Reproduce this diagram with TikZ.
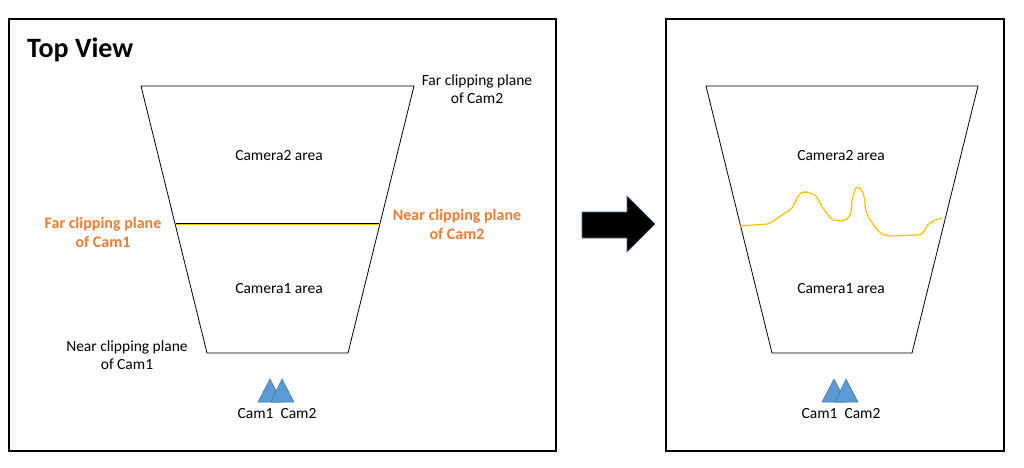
\documentclass[tikz,border=0pt]{standalone}
\usepackage{fontspec}
\setmainfont{Carlito}
\definecolor{org}{HTML}{ED7D31}
\definecolor{gold}{HTML}{FFC000}
\definecolor{camb}{HTML}{5B9BD5}
\definecolor{camd}{HTML}{41719C}
\begin{document}
\begin{tikzpicture}[x=1pt,y=-1pt,
  panel/.style={draw=black,line width=1.5pt},
  frust/.style={draw=black,line width=0.8pt},
  lab/.style={font=\fontsize{15.5}{18}\selectfont,align=center,inner sep=0pt},
  olab/.style={lab,text=org,font=\fontsize{16}{19}\selectfont\bfseries},
  cam/.style={fill=camb,draw=camd,line width=0.5pt}]
\useasboundingbox (0,0) rectangle (1024,467);
\fill[white] (0,0) rectangle (1024,467);
\draw[panel] (9,19) rectangle (556,451);
\draw[panel] (666,19) rectangle (1004,451);
\node[anchor=west,font=\fontsize{28}{30}\selectfont\bfseries,inner sep=0pt] (tv) at (27,50) {Top View};
% left frustum
\draw[frust] (141,86) -- (414,86) -- (348,353) -- (207,353) -- cycle;
\draw[black,line width=0.8pt] (176,223) -- (379,223);
\draw[gold,line width=1.2pt] (176,224.5) -- (379,224.5);
\node[lab] (c2a) at (279,156) {Camera2 area};
\node[lab] (c1a) at (279,289) {Camera1 area};
\node[lab] (far2) at (477,89) {Far clipping plane\\of Cam2};
\node[lab] (near1) at (127,355) {Near clipping plane\\of Cam1};
\node[olab] (far1) at (103,232) {Far clipping plane\\of Cam1};
\node[olab] (near2) at (457,224) {Near clipping plane\\of Cam2};
\draw[cam] (258,402) -- (270,379) -- (282,402) -- cycle;
\draw[cam] (271,402) -- (282,379) -- (294,402) -- cycle;
\node[lab] (cams) at (277,414) {Cam1\ \ Cam2};
% arrow
\fill[black] (582,212) -- (627,212) -- (627,196) -- (655,224) -- (627,252) -- (627,238) -- (582,238) -- cycle;
\draw[camd,line width=0.6pt] (582,212) -- (627,212) -- (627,196) -- (655,224) -- (627,252) -- (627,238) -- (582,238) -- cycle;
% right frustum
\draw[frust] (706,86) -- (978,86) -- (912,353) -- (772,353) -- cycle;
\node[lab] (c2b) at (841,156) {Camera2 area};
\node[lab] (c1b) at (841,289) {Camera1 area};
\draw[gold,line width=1.2pt,rounded corners=3pt] (740,226) -- (769,224) -- (779,217) -- (785,213) -- (792,209) -- (795,202) -- (801,192) -- (806,192) -- (816,195) -- (822,207) -- (829,216) -- (832,220) -- (841,221) -- (848,219) -- (851,213) -- (852,200) -- (856,186) -- (861,189) -- (864,195) -- (866,212) -- (869,218) -- (872,223) -- (880,233) -- (888,236) -- (920,235) -- (924,232) -- (927,225) -- (935,220) -- (942,218);
\draw[cam] (822,402) -- (834,379) -- (846,402) -- cycle;
\draw[cam] (835,402) -- (846,379) -- (858,402) -- cycle;
\node[lab] (camsb) at (841,414) {Cam1\ \ Cam2};
\end{tikzpicture}
\end{document}
